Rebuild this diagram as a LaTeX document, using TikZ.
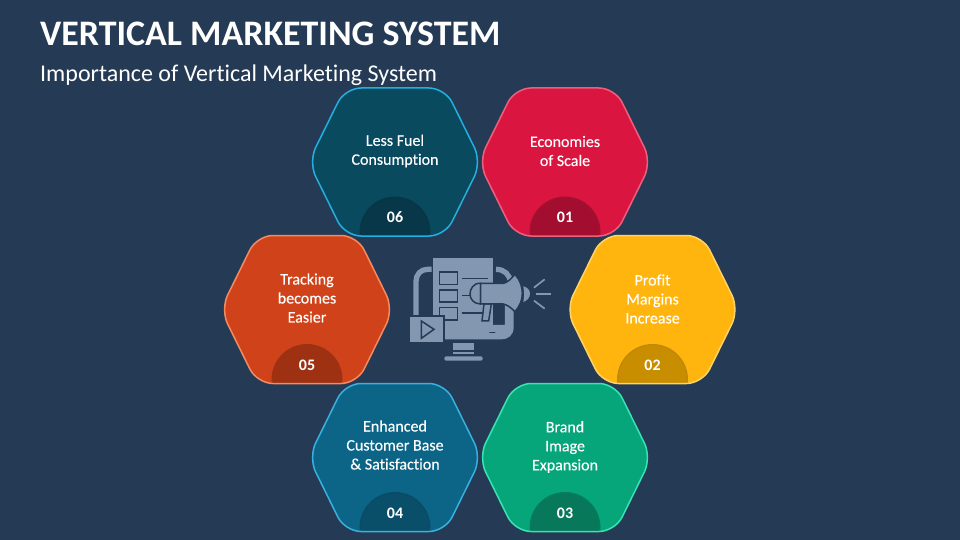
\documentclass[tikz,border=0pt]{standalone}
\usepackage{fontspec}
\setmainfont[RawFeature={-liga;-clig}]{Carlito}
\newfontfamily\hexfont[RawFeature={-liga;-clig},FakeBold=0.25]{Carlito}
\definecolor{bgc}{HTML}{253B55}
\definecolor{icn}{HTML}{8497B0}
\definecolor{HEXA}{HTML}{DA1640}\definecolor{HEXAE}{HTML}{EE5F7E}\definecolor{HEXAS}{HTML}{A30D30}
\definecolor{HEXB}{HTML}{FFB50D}\definecolor{HEXBE}{HTML}{FFD467}\definecolor{HEXBS}{HTML}{C98E00}
\definecolor{HEXC}{HTML}{07A57A}\definecolor{HEXCE}{HTML}{38E4B4}\definecolor{HEXCS}{HTML}{07785A}
\definecolor{HEXD}{HTML}{0C6587}\definecolor{HEXDE}{HTML}{38B0E0}\definecolor{HEXDS}{HTML}{0A4F6A}
\definecolor{HEXE}{HTML}{D0431A}\definecolor{HEXEE}{HTML}{F58A60}\definecolor{HEXES}{HTML}{9E3112}
\definecolor{HEXF}{HTML}{0A4A5F}\definecolor{HEXFE}{HTML}{22B0E0}\definecolor{HEXFS}{HTML}{073748}
\tikzset{
  hexlabel/.style={text=white,align=center,font=\hexfont\fontsize{16}{19}\selectfont,inner sep=0pt},
  numlabel/.style={text=white,font=\bfseries\fontsize{16}{19}\selectfont,inner sep=0pt},
  icnline/.style={draw=bgc,line width=1.5pt},
  hexedge/.style={line width=1.5pt,line join=round}
}
% #1 name, #2 cx, #3 cy, #4 fill, #5 edge, #6 seg, #7 text, #8 number, #9 text y
\newcommand{\hexcell}[9]{%
  \def\hexpath{(#2-86.5,#3) -- (#2-50,#3-74) -- (#2+50,#3-74) -- (#2+86.5,#3) -- (#2+50,#3+74) -- (#2-50,#3+74) -- cycle}%
  \fill[#4,rounded corners=16pt] \hexpath;
  \begin{scope}
    \clip[rounded corners=16pt] \hexpath;
    \fill[black!60!#6,opacity=.35] (#2,#3+70) circle (35.5);
    \fill[#6] (#2,#3+70.5) circle (34);
  \end{scope}
  \draw[#5,hexedge,rounded corners=16pt] \hexpath;
  \node[hexlabel] (#1t) at (#2,#9) {#7};
  \node[numlabel] (#1n) at (#2,#3+55.5) {#8};
}
\begin{document}
\begin{tikzpicture}[x=1pt,y=-1pt]
\useasboundingbox (0,0) rectangle (960,540);
\fill[bgc] (0,0) rectangle (960,540);
\node[anchor=base west,text=white,inner sep=0pt,font=\bfseries\fontsize{35.9}{42}\selectfont] (title) at (40,45.5) {VERTICAL MARKETING SYSTEM};
\node[anchor=base west,text=white,inner sep=0pt,font=\fontsize{24}{29}\selectfont] (sub) at (40,81.5) {Importance of Vertical Marketing System};
\hexcell{a}{565}{162}{HEXA}{HEXAE}{HEXAS}{Economies\\of Scale}{01}{151}
\hexcell{b}{652.5}{309.5}{HEXB}{HEXBE}{HEXBS}{Profit\\Margins\\Increase}{02}{299}
\hexcell{c}{565}{457.5}{HEXC}{HEXCE}{HEXCS}{Brand\\Image\\Expansion}{03}{447}
\hexcell{d}{395}{457.5}{HEXD}{HEXDE}{HEXDS}{Enhanced\\Customer Base\\\& Satisfaction}{04}{445}
\hexcell{e}{307}{309.5}{HEXE}{HEXEE}{HEXES}{Tracking\\becomes\\Easier}{05}{298}
\hexcell{f}{395}{162}{HEXF}{HEXFE}{HEXFS}{Less Fuel\\Consumption}{06}{151}
% central icon
\begin{scope}[shift={(390,240)},x=.3333pt,y=-.3333pt]
  % monitor frame
  \draw[icn,line width=5.3pt] (125,88) -- (112,88) .. controls (92,88) and (78,104) .. (78,124) -- (78,230);
  \draw[icn,line width=5.3pt] (318,88) .. controls (345,88) and (358,105) .. (362,125);
  \fill[icn] (150,255) -- (345,255) -- (345,185) -- (371,185) -- (371,262) .. controls (371,285) and (355,298) .. (335,298) -- (150,298) -- cycle;
  % document
  \fill[icn] (130,54) rectangle (310,255);
  \draw[icnline] (148,96) rectangle (202,134);
  \draw[icnline] (148,150) rectangle (202,186);
  \draw[icnline] (148,202) rectangle (202,240);
  \draw[icnline] (216,115) -- (295,115);
  \draw[icnline] (216,167) -- (240,167);
  \draw[icnline] (216,219) -- (280,219);
  \draw[icnline,line cap=round] (300,277) -- (314,277);
  % megaphone
  \filldraw[fill=icn,icnline] (282,192) -- (276,243) -- (296,243) -- (304,192) -- cycle;
  \filldraw[fill=icn,icnline] (272,130) .. controls (250,128) and (240,148) .. (240,162) .. controls (240,178) and (252,192) .. (272,192) -- cycle;
  \filldraw[fill=icn,icnline] (272,130) -- (340,130) .. controls (352,128) and (362,118) .. (375,103) .. controls (390,120) and (397,140) .. (397,160) .. controls (397,180) and (390,198) .. (375,215) .. controls (365,205) and (352,194) .. (340,192) -- (272,192) -- cycle;
  \fill[icn] (400,139) .. controls (412,142) and (420,150) .. (420,161) .. controls (420,172) and (412,182) .. (400,186) .. controls (403,170) and (403,155) .. (400,139) -- cycle;
  % rays
  \draw[icn,line width=1.7pt] (432,143) -- (464,118);
  \draw[icn,line width=1.7pt] (437,161) -- (482,161);
  \draw[icn,line width=1.7pt] (432,182) -- (464,206);
  % video box
  \filldraw[fill=icn,icnline] (57,228) rectangle (162,308);
  \draw[icnline,line join=miter] (94,243) -- (132,268) -- (94,295) -- cycle;
  % stand
  \fill[icn] (189,308) rectangle (252,330);
  \fill[icn] (189,335) rectangle (252,343);
  \fill[icn,rounded corners=1.5pt] (163,349) rectangle (278,362);
\end{scope}
\end{tikzpicture}
\end{document}
